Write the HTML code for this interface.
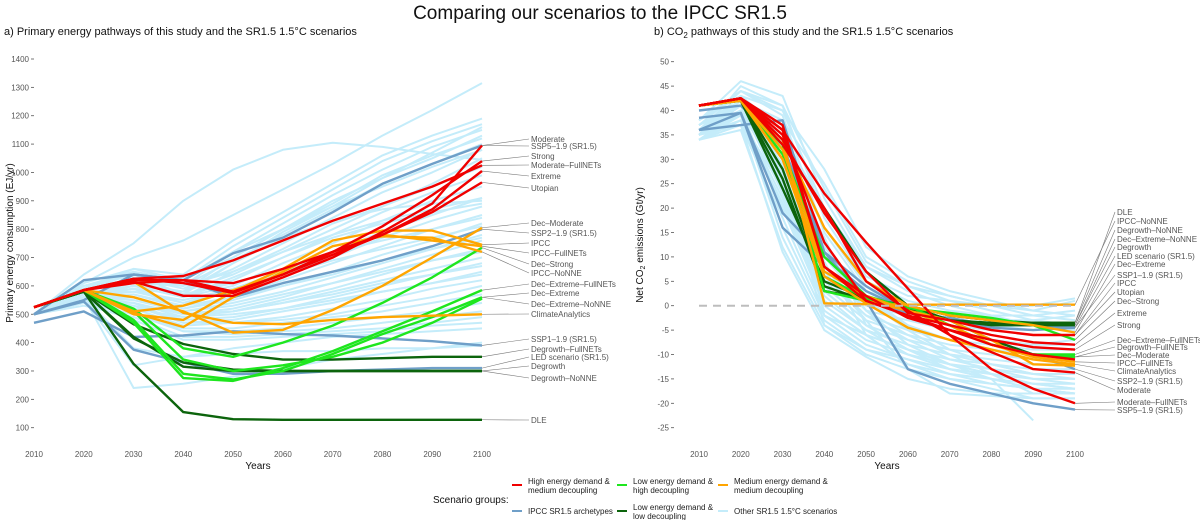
<!DOCTYPE html>
<html><head><meta charset="utf-8"><style>
body{margin:0;background:#fff;font-family:"Liberation Sans",sans-serif}
svg text{font-family:"Liberation Sans",sans-serif}
</style></head><body>
<svg id="c" width="1200" height="520" viewBox="0 0 1200 520" xmlns="http://www.w3.org/2000/svg">
<text x="600" y="19" text-anchor="middle" font-size="19" fill="#111">Comparing our scenarios to the IPCC SR1.5</text>
<text x="4" y="35" font-size="11" fill="#111">a) Primary energy pathways of this study and the SR1.5 1.5°C scenarios</text>
<text x="654" y="35" font-size="11" fill="#111">b) CO<tspan font-size="8" dy="3">2</tspan><tspan dy="-3"> pathways of this study and the SR1.5 1.5°C scenarios</tspan></text>
<text transform="translate(13,243) rotate(-90)" text-anchor="middle" font-size="10" fill="#111">Primary energy consumption (EJ/yr)</text>
<text transform="translate(643,245) rotate(-90)" text-anchor="middle" font-size="10" fill="#111">Net CO<tspan font-size="7" dy="2">2</tspan><tspan dy="-2"> emissions (Gt/yr)</tspan></text>
<text x="258" y="469" text-anchor="middle" font-size="10" fill="#111">Years</text>
<text x="887" y="469" text-anchor="middle" font-size="10" fill="#111">Years</text>
<g id="legend">
<text x="433" y="503" font-size="10" fill="#111">Scenario groups:</text>
</g>
</svg>
<script>
const years=[2010,2020,2030,2040,2050,2060,2070,2080,2090,2100];
const leftTicks=[100,200,300,400,500,600,700,800,900,1000,1100,1200,1300,1400];
const rightTicks=[-25,-20,-15,-10,-5,0,5,10,15,20,25,30,35,40,45,50];
// Energy (EJ/yr)
const eOther=[
[500,640,750,900,1010,1080,1105,1090,1065,1045],
[500,610,700,760,850,940,1030,1130,1220,1315],
[500,610,660,640,760,860,960,1060,1130,1190],
[500,600,650,620,740,840,940,1040,1110,1170],
[500,590,640,600,720,820,920,1010,1090,1150],
[500,600,620,630,700,800,890,990,1060,1120],
[500,590,610,600,690,780,870,960,1030,1100],
[500,580,630,590,660,750,840,930,1000,1080],
[500,570,600,580,640,720,800,880,950,1020],
[500,580,620,560,620,700,780,860,930,990],
[500,570,600,560,600,680,750,830,900,950],
[500,560,590,540,590,650,720,790,850,910],
[500,570,580,540,580,640,700,770,830,880],
[500,560,570,520,560,620,680,740,800,850],
[500,560,590,520,550,600,650,710,760,820],
[500,550,560,510,540,580,630,680,730,780],
[500,560,560,500,520,560,610,660,710,760],
[500,550,540,490,510,550,590,640,690,720],
[500,560,560,500,510,540,580,620,660,700],
[500,550,530,480,490,520,560,600,640,680],
[500,560,540,470,480,510,540,580,610,650],
[500,550,520,460,470,490,520,550,590,620],
[500,560,530,470,470,480,500,530,560,600],
[500,540,500,450,450,470,490,510,540,570],
[500,550,510,440,440,450,470,490,510,540],
[500,540,500,440,430,440,450,470,490,510],
[500,530,490,420,420,430,440,450,470,490],
[500,540,480,410,410,420,430,440,460,470],
[500,560,240,255,280,310,340,360,380,400],
[500,550,320,350,380,400,420,430,440,450],
[500,560,380,350,360,370,370,380,380,390],
[500,580,650,560,650,730,820,880,960,1050],
[500,600,640,570,680,790,880,980,1070,1160],
[500,570,610,580,680,770,830,870,890,900],
[500,570,600,560,630,700,770,820,860,890],
[500,580,620,600,650,720,780,830,870,910],
[500,570,590,570,610,660,720,760,800,840],
[500,560,580,550,590,640,690,730,770,810],
[500,550,570,530,560,600,640,690,730,770],
[500,560,550,510,530,570,610,650,690,730],
[500,550,540,500,510,540,570,610,640,670],
[500,540,520,490,500,520,550,580,610,640],
[500,560,600,580,700,800,900,980,1050,1130],
[500,590,660,620,720,800,880,950,1020,1080]];
const eArch=[
[500,620,640,620,715,770,860,960,1030,1095],
[500,550,640,620,560,610,650,690,740,800],
[470,510,420,425,440,430,425,415,405,390],
[500,545,375,330,290,290,300,305,310,310]];
const eLowHigh=[
[525,585,520,380,350,400,460,540,630,735],
[525,585,470,275,265,310,370,440,510,585],
[525,585,480,290,270,300,360,430,490,560],
[525,585,510,340,300,320,350,400,470,555]];
const eLowLow=[
[525,580,325,155,130,128,128,128,128,128],
[525,580,465,395,360,340,340,345,350,350],
[525,580,415,330,305,300,300,300,300,300],
[525,580,420,315,300,300,300,300,300,300]];
const eMed=[
[525,585,615,505,470,465,480,490,495,500],
[525,585,560,510,435,445,515,600,700,805],
[525,585,500,480,580,660,760,795,795,745],
[525,585,505,455,560,650,740,775,770,720],
[525,585,510,530,585,640,720,780,760,740]];
const eHigh=[
[525,585,625,635,690,760,830,890,950,1025],
[525,585,615,565,565,630,700,790,890,1095],
[525,585,625,610,575,640,720,810,920,1040],
[525,585,620,620,580,640,710,780,870,1005],
[525,585,610,620,610,660,720,780,860,965]];
// CO2 (Gt/yr)
const cOther=[
[36,44,40,20,6,2,1,0,0,1.5],[38,46,43,22,8,4,2,0,-1,1],[35,45,41,18,5,1,-1,-2,-2,-1],
[37,44,39,15,3,0,-2,-3,-3,-2],[36,43,36,12,2,-1,-3,-4,-5,-4],[35,42,33,10,0,-2,-4,-5,-6,-6],
[34,40,30,8,-1,-3,-5,-7,-8,-8],[35,41,28,6,-2,-5,-7,-8,-9,-9],[36,40,26,4,-3,-6,-8,-9,-10,-10],
[34,38,24,3,-4,-7,-9,-10,-11,-11],[35,39,22,2,-5,-8,-10,-11,-12,-12],[36,40,20,0,-6,-9,-11,-12,-13,-13],
[34,37,18,-1,-7,-10,-12,-13,-14,-14],[35,38,16,-2,-8,-11,-13,-14,-15,-15],[36,39,14,-3,-9,-12,-14,-15,-16,-16],
[34,36,12,-4,-10,-13,-15,-16,-17,-17],[35,37,11,-5,-10.5,-15,-17,-18,-18,-18],[37,42,38,25,10,5,2,0,-2,-3],
[38,43,40,28,12,6,3,1,-1,-2],[36,41,35,20,8,3,0,-2,-4,-5],[35,40,32,16,4,-2,-5,-7,-8,-7],
[34,39,28,12,2,-4,-7,-9,-11,-12],[36,41,30,14,-4,-9,-13,-15,-17,-18],[35,40,27,9,-6,-12,-15,-17,-19,-19],
[37,41,25,7,-3,-13,-18,-18.5,-19,-19],[36,42,31,13,1,-5,-10,-14,-18,-18],[35,39,29,11,-1,-8,-12,-15,-23.5,null],
[38,44,41,24,9,4,1,-1,-3,-4],[36,42,34,-2,-6,-9,-12,-14,-16,-17],[35,41,29,-4,-9,-11,-14,-16,-17,-18],
[36,40,25,5,-2,-7,-11,-13,-15,-16],[35,41,27,8,-1,-6,-10,-12,-14,-15],[37,42,30,10,1,-4,-9,-12,-14,-14],
[36,41,23,3,-4,-9,-12,-14,-16,-17],[34,38,21,1,-5,-10,-13,-15,-17,-18]];
const cArch=[
[36,39.5,16,8,1,-13,-16,-18,-20,-21.3],
[40,41,33,11,4,-1,-3,-4.5,-5,-4.5],
[38.5,39.5,19,10,3,-1,-3,-7,-10,-13],
[36,37,38,11,1,-1.5,-2.5,-4,-4,-4.5]];
const cLowHigh=[
[41,42,32,10,2,-0.5,-1.5,-2.5,-4,-7],
[41,42,31,6,1.5,-1,-4,-8,-10,-10],
[41,42,33,3,1,0,-4,-8,-10,-10.5]];
const cLowLow=[
[41,42,28,4,1,0,-2,-3,-3.5,-3.5],
[41,42,26,3,1.5,0,-3,-7,-10,-10.5],
[41,42,24,5,1.5,-0.5,-3,-4,-4,-4],
[41,42,33,20,7,0,-3,-3.5,-3.5,-3.5]];
const cMed=[
[41,42,34,0.5,0.3,0.2,0.2,0.2,0.2,0.2],
[41,42,30,6,0.5,-4.5,-7,-9,-11,-12],
[41,42,32,8,1,-1,-3,-7,-12,-12.3],
[41,42,34,16,5,0,-2,-3,-4,-5.5],
[41,42,30,7,2,-1,-4,-8,-10.5,-11.5]];
const cHigh=[
[41,42.5,36,23,13,3.5,-6,-13,-17,-20],
[41,42.5,35,13,1,-2,-5,-7,-8.5,-9],
[41,42.5,37,8,1,-2,-4,-6,-7.5,-8],
[41,42.5,36,8,2,-2.5,-5,-8,-10,-11],
[41,42.5,34,19,7,-1.5,-3,-5,-6,-6],
[41,42.5,33,20,5,-1,-6,-9.5,-13,-13.7]];
const leftLabelText=["Moderate","SSP5–1.9 (SR1.5)","Strong","Moderate–FullNETs","Extreme","Utopian","Dec–Moderate","SSP2–1.9 (SR1.5)","IPCC","IPCC–FullNETs","Dec–Strong","IPCC–NoNNE","Dec–Extreme–FullNETs","Dec–Extreme","Dec–Extreme–NoNNE","ClimateAnalytics","SSP1–1.9 (SR1.5)","Degrowth–FullNETs","LED scenario (SR1.5)","Degrowth","Degrowth–NoNNE","DLE"];
const leftLabelEnd=[1095,1095,1040,1025,1005,965,805,800,745,740,735,720,585,560,560,500,390,350,310,300,300,128];
const leftLabelY=[139,146,156,165,176,188,223,233,243,253,264,273,284,293,304,314,339,349,357,366,378,420];
const rightLabelText=["DLE","IPCC–NoNNE","Degrowth–NoNNE","Dec–Extreme–NoNNE","Degrowth","LED scenario (SR1.5)","Dec–Extreme","SSP1–1.9 (SR1.5)","IPCC","Utopian","Dec–Strong","Extreme","Strong","Dec–Extreme–FullNETs","Degrowth–FullNETs","Dec–Moderate","IPCC–FullNETs","ClimateAnalytics","SSP2–1.9 (SR1.5)","Moderate","Moderate–FullNETs","SSP5–1.9 (SR1.5)"];
const rightLabelEnd=[-3.5,0.2,-3.5,-4,-4,-4.5,-5.5,-4.5,-6,-6,-7,-8,-9,-10,-10.5,-10.5,-11.5,-12,-13,-13.7,-20,-21.3];
const rightLabelY=[212,221,230,239,247,256,264,275,283,292,301,313,325,340,347,355,363,371,381,390,402,410];

const NS="http://www.w3.org/2000/svg";
const svg=document.getElementById('c');
function xL(y){return 34+(y-2010)*(482-34)/90;}
function yL(v){return 59+(1400-v)*(427.7-59)/1300;}
function xR(y){return 699+(y-2010)*(1075-699)/90;}
function yR(v){return 61.7+(50-v)*(427.7-61.7)/75;}
function mk(t,a,p){const e=document.createElementNS(NS,t);for(const k in a)e.setAttribute(k,a[k]);(p||svg).appendChild(e);return e;}
function path(vals,xf,yf){let d='';let s=true;vals.forEach((v,i)=>{if(v===null)return;d+=(s?'M':'L')+xf(years[i]).toFixed(1)+','+yf(v).toFixed(1);s=false;});return d;}
function axes(xf,yf,ticks,lx,side){
  ticks.forEach(t=>{
    const tx=mk('text',{x:lx,y:yf(t)+3,'text-anchor':'end','font-size':8,fill:'#555'});tx.textContent=t;
    
    
    const tk=mk('line',{x1:lx+2,x2:lx+5,y1:yf(t),y2:yf(t),stroke:'#555','stroke-width':0.8});
    
    
  });
  years.forEach(y=>{
    const tx=mk('text',{x:xf(y),y:457,'text-anchor':'middle','font-size':8,fill:'#555'});tx.textContent=y;
    
    
  });
}
axes(xL,yL,leftTicks,29,'left');
axes(xR,yR,rightTicks,669,'right');
function series(arr,xf,yf,color,w,name){
  arr.forEach(v=>{
    const p=mk('path',{d:path(v,xf,yf),fill:'none',stroke:color,'stroke-width':w,'stroke-linejoin':'round'});
    
    
  });
}
series(eOther,xL,yL,'#c4ecfa',2,'other-scenario-line');
series(eArch,xL,yL,'#6f9fc8',2.4,'ipcc-archetype-line');
series(eLowLow,xL,yL,'#0c640c',2.4,'low-demand-low-decoupling-line');
series(eLowHigh,xL,yL,'#1ee61e',2.4,'low-demand-high-decoupling-line');
series(eMed,xL,yL,'#ffa500',2.4,'medium-demand-line');
series(eHigh,xL,yL,'#f00000',2.4,'high-demand-line');
series(cOther,xR,yR,'#c4ecfa',2,'other-scenario-line');
series(cArch,xR,yR,'#6f9fc8',2.4,'ipcc-archetype-line');
series(cLowLow,xR,yR,'#0c640c',2.4,'low-demand-low-decoupling-line');
series(cLowHigh,xR,yR,'#1ee61e',2.4,'low-demand-high-decoupling-line');
series(cMed,xR,yR,'#ffa500',2.4,'medium-demand-line');
series(cHigh,xR,yR,'#f00000',2.4,'high-demand-line');
const z=mk('line',{x1:xR(2010),x2:xR(2100),y1:yR(0),y2:yR(0),stroke:'#bdbdbd','stroke-width':2,'stroke-dasharray':'8,6'});


function labels(texts,ends,ys,xf,yf,lx,side){
  texts.forEach((t,i)=>{
    const l=mk('line',{x1:xf(2100),y1:yf(ends[i]),x2:lx-2,y2:ys[i],stroke:'#777','stroke-width':0.6});
    
    
    const tx=mk('text',{x:lx,y:ys[i]+3,'font-size':8,fill:'#555'});tx.textContent=t;
    
    
  });
}
labels(leftLabelText,leftLabelEnd,leftLabelY,xL,yL,531,'left');
labels(rightLabelText,rightLabelEnd,rightLabelY,xR,yR,1117,'right');
const lg=document.getElementById('legend');
const legItems=[
 [512,485,'#f00000',['High energy demand &','medium decoupling']],
 [617,485,'#1ee61e',['Low energy demand &','high decoupling']],
 [718,485,'#ffa500',['Medium energy demand &','medium decoupling']],
 [512,511,'#6f9fc8',['IPCC SR1.5 archetypes']],
 [617,511,'#0c640c',['Low energy demand &','low decoupling']],
 [718,511,'#c4ecfa',['Other SR1.5 1.5°C scenarios']]];
legItems.forEach(it=>{
  const g=mk('g',{},lg);
  
  
  mk('line',{x1:it[0],x2:it[0]+10,y1:it[1],y2:it[1],stroke:it[2],'stroke-width':2},g);
  const lines=it[3];
  lines.forEach((s,j)=>{
    const y=lines.length==1?it[1]+3:it[1]-1+j*9;
    const tx=mk('text',{x:it[0]+16,y:y,'font-size':8,fill:'#222'},g);tx.textContent=s;
  });
});
</script>
</body></html>
